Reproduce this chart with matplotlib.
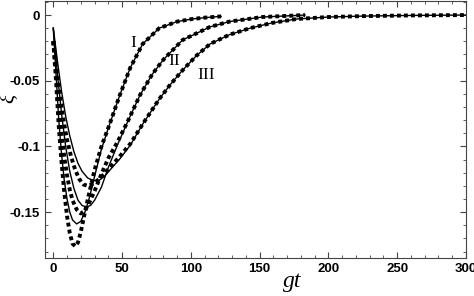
import numpy as np
import matplotlib.pyplot as plt
from matplotlib.ticker import MultipleLocator

plt.rcParams['axes.unicode_minus'] = False

# solid curves (t, xi)
t_I = [0, 2, 4, 6, 8, 10, 12, 14, 17, 20, 23, 26, 30, 35, 41, 48, 56, 65, 77, 90, 101, 110, 122]
xi_I = [-0.010, -0.045, -0.080, -0.106, -0.126, -0.140, -0.150, -0.156, -0.159, -0.157, -0.150,
        -0.140, -0.123, -0.102, -0.083, -0.062, -0.040, -0.022, -0.010, -0.005, -0.003, -0.002, -0.001]

t_II = [0, 3, 6, 9, 12, 15, 18, 21, 24, 27, 30, 35, 40, 47, 55, 63, 72, 80, 94, 114, 128, 152, 183]
xi_II = [-0.010, -0.045, -0.075, -0.100, -0.119, -0.132, -0.141, -0.145, -0.146, -0.145, -0.141,
         -0.131, -0.116, -0.098, -0.079, -0.061, -0.045, -0.034, -0.019, -0.009, -0.005, -0.0015, 0.0]

t_III = [0, 3, 6, 9, 12, 15, 18, 21, 25, 29, 33, 37, 42, 48, 56, 65, 77, 85, 94, 104, 114,
         128, 143, 159, 177, 200, 225, 260, 300]
xi_III = [-0.010, -0.035, -0.058, -0.077, -0.092, -0.104, -0.113, -0.119, -0.124, -0.126, -0.126,
          -0.123, -0.117, -0.110, -0.099, -0.083, -0.064, -0.053, -0.042, -0.031, -0.022,
          -0.015, -0.010, -0.006, -0.003, -0.0015, -0.0008, -0.0003, 0.0]

# dotted curves
td_I = [0, 2, 4, 6, 8, 10, 12, 14, 16, 18, 20, 23, 26, 30, 35, 41, 48, 56, 65, 77, 90, 101, 110, 122]
xid_I = [-0.020, -0.050, -0.085, -0.112, -0.135, -0.153, -0.166, -0.174, -0.176, -0.173, -0.165,
         -0.150, -0.136, -0.118, -0.100, -0.083, -0.062, -0.040, -0.022, -0.010, -0.005, -0.003,
         -0.002, -0.001]

td_II = [0, 2, 4, 6, 8, 10, 12, 14, 17, 20, 23, 26, 30, 35, 40, 47, 55, 63, 72, 80, 94, 114, 128, 152, 183]
xid_II = [-0.020, -0.043, -0.068, -0.090, -0.108, -0.122, -0.133, -0.141, -0.148, -0.151, -0.149,
          -0.143, -0.134, -0.121, -0.109, -0.096, -0.079, -0.061, -0.045, -0.034, -0.019, -0.009,
          -0.005, -0.0015, 0.0]

td_III = [0, 2, 4, 7, 10, 13, 16, 19, 22, 25, 28, 32, 37, 42, 48, 56, 65, 77, 85, 94, 104, 114,
          128, 143, 159, 177, 200, 225, 260, 300]
xid_III = [-0.020, -0.038, -0.055, -0.077, -0.095, -0.108, -0.118, -0.125, -0.129, -0.130, -0.129,
           -0.126, -0.121, -0.115, -0.108, -0.098, -0.083, -0.064, -0.053, -0.042, -0.031, -0.022,
           -0.015, -0.010, -0.006, -0.003, -0.0015, -0.0008, -0.0003, 0.0]

labels = ['I', 'II', 'III']
label_t = [58, 88, 111]
label_xi = [-0.021, -0.035, -0.046]

fig = plt.figure(figsize=(4.74, 2.96), dpi=100)
ax = fig.add_axes([0.095, 0.128, 0.888, 0.870])

for t, xi in [(t_I, xi_I), (t_II, xi_II), (t_III, xi_III)]:
    ax.plot(t, xi, color='black', lw=1.0)
for t, xi in [(td_I, xid_I), (td_II, xid_II), (td_III, xid_III)]:
    ax.plot(t, xi, color='black', lw=2.8, linestyle=(0, (1, 0.8)), dash_capstyle='butt')

for s, x, y in zip(labels, label_t, label_xi):
    ax.text(x, y, s, family='Liberation Serif', fontsize=12.5, ha='center', va='center')

ax.set_xlim(-6, 300)
ax.set_ylim(-0.185, 0.011)
ax.xaxis.set_major_locator(MultipleLocator(50))
ax.xaxis.set_minor_locator(MultipleLocator(10))
ax.yaxis.set_minor_locator(MultipleLocator(0.01))
ax.set_yticks([0, -0.05, -0.1, -0.15])
ax.set_yticklabels(['0', '-0.05', '-0.1', '-0.15'])
ax.tick_params(which='both', direction='in', top=True, right=True, color='#444444')
ax.tick_params(which='major', length=4, labelsize=9.5)
ax.tick_params(which='minor', length=2.5)
for lab in ax.get_xticklabels() + ax.get_yticklabels():
    lab.set_fontweight('bold')
    lab.set_family('Liberation Sans')
for sp in ax.spines.values():
    sp.set_color('#444444')

ax.set_xlabel('gt', family='Liberation Serif', style='italic', fontsize=17, va='center')
ax.xaxis.set_label_coords(0.587, -0.09)
ax.set_ylabel('ξ', family='Liberation Serif', style='italic', fontsize=15, va='center')
ax.yaxis.set_label_coords(-0.083, 0.62)

fig.savefig('out.png', dpi=100)
